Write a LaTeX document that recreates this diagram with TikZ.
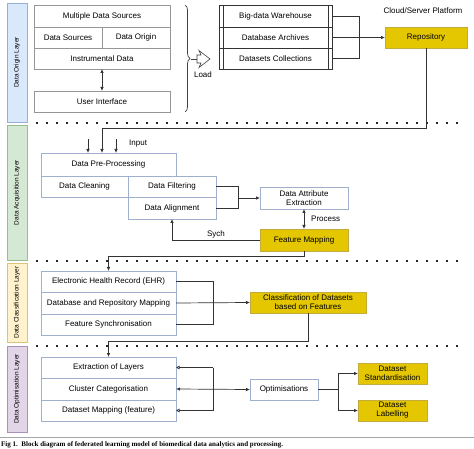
\documentclass[tikz,border=0pt]{standalone}
\usepackage{fontspec}
\setmainfont{Liberation Sans}
\newfontfamily\capfont{Liberation Serif}
\usetikzlibrary{arrows.meta,decorations.pathreplacing,calc}
\definecolor{yfill}{RGB}{228,199,0}
\definecolor{ydraw}{RGB}{196,172,60}
\definecolor{bdraw}{RGB}{160,176,204}
\definecolor{gdraw}{RGB}{150,150,150}
\definecolor{Lblue}{RGB}{218,232,252}
\definecolor{Lbluedraw}{RGB}{150,175,215}
\definecolor{Lgreen}{RGB}{213,232,212}
\definecolor{Lgreendraw}{RGB}{150,190,145}
\definecolor{Lyellow}{RGB}{255,242,204}
\definecolor{Lyellowdraw}{RGB}{220,195,120}
\definecolor{Lpurple}{RGB}{225,213,231}
\definecolor{Lpurpledraw}{RGB}{170,145,185}
\tikzset{
  box/.style={draw=gdraw, fill=white, inner sep=0pt, outer sep=0pt, anchor=north west,
    font=\fontsize{8}{9}\selectfont, align=center, line width=0.6pt},
  obox/.style={box, draw=bdraw},
  ybox/.style={box, fill=yfill, draw=ydraw},
  layerbar/.style={rotate=90, inner sep=0pt, outer sep=0pt, line width=0.6pt,
    minimum height=20, font=\fontsize{6.5}{7}\selectfont},
  conn/.style={line width=0.7pt, draw=black!80},
  arr/.style={conn, -{Latex[length=4pt,width=3.5pt]}},
  darr/.style={conn, {Latex[length=4pt,width=3.5pt]}-{Latex[length=4pt,width=3.5pt]}},
  oarr/.style={conn, -{Triangle[open,length=3.5pt,width=3.5pt]}},
  sep/.style={line width=2.4pt, dash pattern=on 2.4pt off 7.6pt, draw=black!85},
  lbl/.style={inner sep=0pt, font=\fontsize{8}{9}\selectfont},
}
\begin{document}
\begin{tikzpicture}[x=1pt,y=-1pt]
\useasboundingbox (0,0) rectangle (474,449);
\fill[white] (0,0) rectangle (474,449);

% layer bars
\node[layerbar, fill=Lblue, draw=Lbluedraw, minimum width=119] (L1) at (17,62.5) {Data Origin Layer};
\node[layerbar, fill=Lgreen, draw=Lgreendraw, minimum width=135] (L2) at (17,192.5) {Data Acquisition Layer};
\node[layerbar, fill=Lyellow, draw=Lyellowdraw, minimum width=79] (L3) at (17,302.5) {Data Classification Layer};
\node[layerbar, fill=Lpurple, draw=Lpurpledraw, minimum width=86] (L4) at (17,389) {Data Optimisation Layer};

% separators
\draw[sep] (36,123) -- (462,123);
\draw[sep] (36,261) -- (462,261);
\draw[sep] (36,346) -- (462,346);

% ---------- Data Origin Layer
\node[box, minimum width=136, minimum height=22] (mds) at (34,5) {Multiple Data Sources};
\node[box, minimum width=68, minimum height=21] (ds) at (34,27) {Data Sources};
\node[box, minimum width=68, minimum height=21] (dor) at (102,27) {Data Origin};
\node[box, minimum width=136, minimum height=21] (inst) at (34,48) {Instrumental Data};
\node[box, minimum width=136, minimum height=21] (ui) at (34,91) {User Interface};
\draw[darr] (inst.south) -- (ui.north);

\draw[conn, draw=black!75, decorate, decoration={brace, amplitude=5pt}] (185,5) -- (185,112);
\draw[line width=0.6pt, draw=black!75] (191,59) -- (197,59);
\draw[line width=0.6pt, draw=black!75] (197,55) -- (201,55) -- (199,50.5) -- (210,59) -- (199,67.5) -- (201,63) -- (197,63) -- cycle;
\node[lbl] (load) at (203,75) {Load};

\node[box, draw=black!80, minimum width=113, minimum height=22] (bw) at (219,5) {Big-data Warehouse};
\node[box, draw=black!80, minimum width=113, minimum height=21] (da) at (219,27) {Database Archives};
\node[box, draw=black!80, minimum width=113, minimum height=21] (dc) at (219,48) {Datasets Collections};
\draw[line width=0.6pt, draw=black!80] (223,5) -- (223,69) (328,5) -- (328,69);

\node[lbl] (cloud) at (423,11) {Cloud/Server Platform};
\node[ybox, minimum width=82, minimum height=21] (repo) at (385,27) {Repository};
\draw[conn] (bw.east) -- (359,16) |- (dc.east);
\draw[arr] (da.east) -- (repo.west);

% ---------- Data Acquisition Layer
\node[obox, minimum width=135, minimum height=23] (pre) at (41,153) {Data Pre-Processing};
\node[obox, minimum width=87, minimum height=21] (clean) at (41,176) {Data Cleaning};
\node[obox, minimum width=88, minimum height=21] (filt) at (128,176) {Data Filtering};
\node[obox, minimum width=88, minimum height=22] (align) at (128,197) {Data Alignment};
\node[obox, minimum width=88, minimum height=22] (ext) at (260,187) {Data Attribute\\Extraction};
\node[ybox, minimum width=88, minimum height=22] (fm) at (260,229) {Feature Mapping};

\coordinate (inA) at (88,139);
\coordinate (inB) at (102,128);
\coordinate (inC) at (116,139);
\draw[conn] (repo.south) |- (inB);
\draw[arr] (inB) -- (inB |- pre.north);
\draw[arr] (inA) -- (inA |- pre.north);
\draw[arr] (inC) -- (inC |- pre.north);
\node[lbl, anchor=west] (input) at (129,144) {Input};

\draw[conn] (filt.east) -- (238,186.5) |- (align.east);
\coordinate (fj) at (238,198);
\draw[arr] (fj) -- (ext.west);
\draw[darr] (ext.south) -- (fm.north);
\node[lbl, anchor=west] (process) at (311,219) {Process};
\draw[arr] (fm.west) -| (align.south);
\node[lbl] (sych) at (216,234) {Sych};

% ---------- Data Classification Layer
\node[obox, minimum width=135, minimum height=21] (ehr) at (41,271) {Electronic Health Record (EHR)};
\node[obox, minimum width=135, minimum height=22] (dbm) at (41,292) {Database and Repository Mapping};
\node[obox, minimum width=135, minimum height=21] (fs) at (41,314) {Feature Synchronisation};
\node[ybox, minimum width=116, minimum height=21] (cls) at (250,292) {Classification of Datasets\\based on Features};
\draw[arr] (fm.south) -- (304,256) -| (ehr.north);
\draw[conn] (ehr.east) -- (213,281.5) |- (fs.east);
\draw[arr] (dbm.east) -- (cls.west);

% ---------- Data Optimisation Layer
\node[obox, minimum width=135, minimum height=21] (exl) at (41,357) {Extraction of Layers};
\node[obox, minimum width=135, minimum height=22] (cc) at (41,378) {Cluster Categorisation};
\node[obox, minimum width=135, minimum height=21] (dm) at (41,400) {Dataset Mapping (feature)};
\node[obox, minimum width=68, minimum height=21] (opt) at (250,379) {Optimisations};
\node[ybox, minimum width=69, minimum height=21] (std) at (358,363) {Dataset\\Standardisation};
\node[ybox, minimum width=69, minimum height=21] (lab) at (358,400) {Dataset\\Labelling};
\draw[arr] (cls.south) -- (308,341) -| (exl.north);

\coordinate (vt) at (213,367.5);
\coordinate (vb) at (213,410.5);
\draw[conn] (vt) -- (vb);
\draw[oarr] (vt) -- (exl.east);
\draw[oarr] (vb) -- (dm.east);
\draw[darr] (cc.east) -- (opt.west);
\coordinate (oj) at (338,389.5);
\draw[conn] (opt.east) -- (oj);
\draw[arr] (oj) |- (std.west);
\draw[arr] (oj) |- (lab.west);

% ---------- caption
\draw[line width=0.6pt, draw=black!35] (0,437) -- (474,437);
\node[inner sep=0pt, anchor=base west, font=\capfont\bfseries\fontsize{7}{8}\selectfont] (cap) at (1,446.5) {Fig 1.\ \ Block diagram of federated learning model of biomedical data analytics and processing.};
\end{tikzpicture}
\end{document}
